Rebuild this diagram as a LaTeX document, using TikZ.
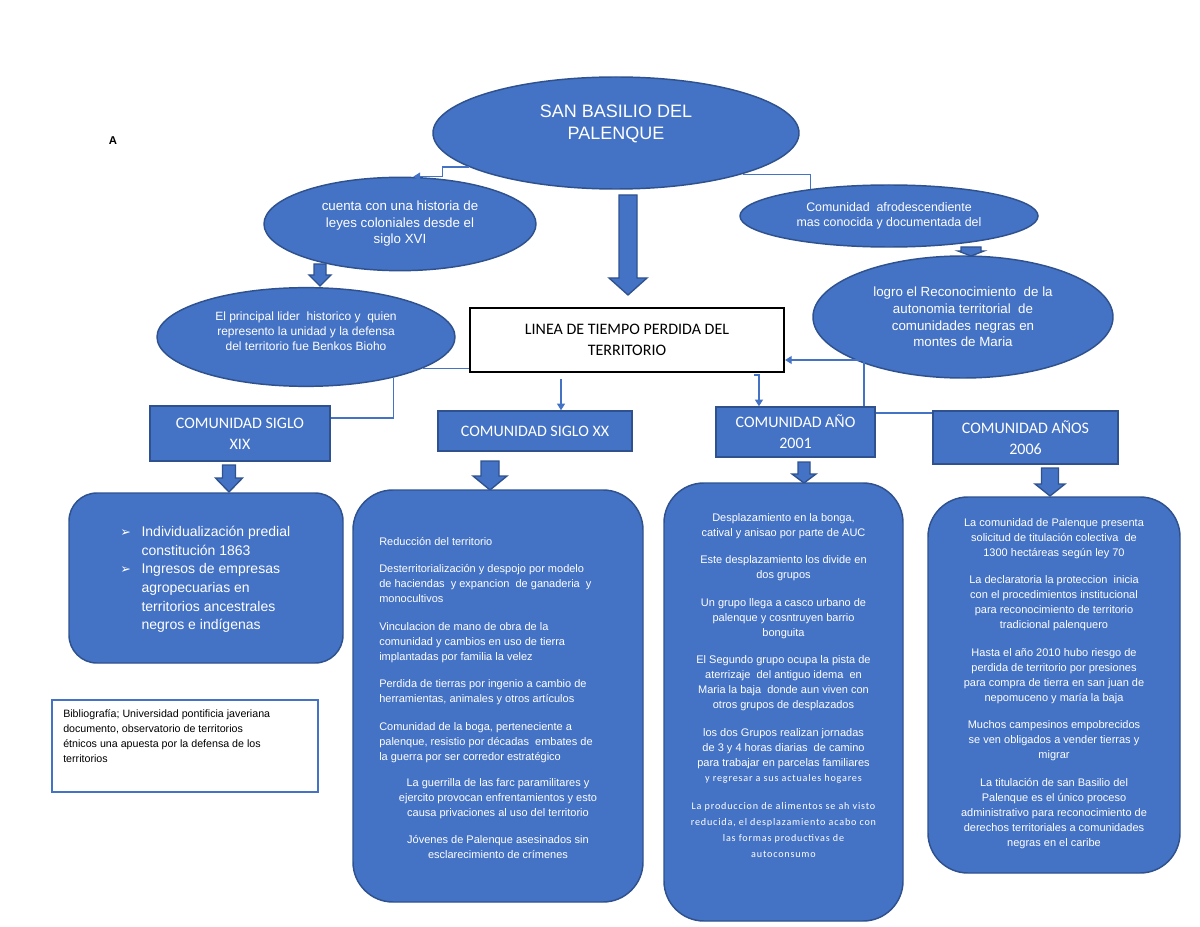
\documentclass[tikz,border=0pt]{standalone}
\usepackage{fontspec}
\setmainfont{Liberation Sans}
\newfontfamily\calfont{Carlito}
\newfontfamily\calwide{Carlito}[LetterSpace=8]
\newfontfamily\dingfont{DejaVu Sans}
\usetikzlibrary{shapes.geometric,arrows.meta}

\definecolor{officeblue}{HTML}{4472C4}
\definecolor{edgeblue}{HTML}{2F528F}

\newcommand{\smallcal}{\calwide\fontsize{7.6}{11.8}\selectfont}
\newcommand{\blockdown}[6]{%
  \filldraw[blockarrow] (#1-#5,#2) -- (#1+#5,#2) -- (#1+#5,#3) -- (#1+#6,#3)
    -- (#1,#4) -- (#1-#6,#3) -- (#1-#5,#3) -- cycle;}

\tikzset{
  bubble/.style={ellipse, fill=officeblue, draw=edgeblue, line width=1.1pt,
    inner sep=0pt, text=white, align=center},
  header/.style={rectangle, fill=officeblue, draw=edgeblue, line width=1.1pt,
    inner sep=0pt, text=white, align=center,
    font=\calfont\fontsize{12}{15.75}\selectfont},
  panel/.style={rectangle, rounded corners=30pt, fill=officeblue,
    draw=edgeblue, line width=1.1pt},
  paneltext/.style={inner sep=0pt, text=white,
    font=\fontsize{8.25}{11.25}\selectfont},
  link/.style={officeblue, line width=0.9pt},
  tip/.style={-{Triangle[length=5pt,width=6pt]}},
  blockarrow/.style={fill=officeblue, draw=edgeblue, line width=1pt},
}

\begin{document}
\begin{tikzpicture}[x=0.75pt, y=-0.75pt]
\path[use as bounding box, fill=white] (0,0) rectangle (1200,927);

\node[font=\bfseries\fontsize{8.5}{10}\selectfont] (mark-a) at (113,141) {A};

\node[bubble, minimum width=274.5pt, minimum height=84pt] (palenque) at (616,133) {};
\node[text=white, align=center, inner sep=0pt,
  font=\fontsize{13.5}{16.5}\selectfont] (palenque-t) at (616,124)
  {SAN BASILIO DEL\\PALENQUE};

\node[bubble, minimum width=204pt, minimum height=70pt,
  font=\fontsize{10}{12.4}\selectfont] (cuenta) at (400,224)
  {cuenta con una historia de\\leyes coloniales desde el\\siglo XVI};
\node[bubble, minimum width=223.5pt, minimum height=74pt,
  font=\fontsize{9}{11.25}\selectfont] (benkos) at (306,337)
  {El principal lider\ \ historico y\ \ quien\\represento la unidad y la defensa\\del territorio fue Benkos Bioho\\[-2.25pt]};
\node[bubble, minimum width=223.5pt, minimum height=46.5pt,
  font=\fontsize{9.3}{11.25}\selectfont] (afro) at (889,216)
  {Comunidad\ \ afrodescendiente\\mas conocida y documentada del};
\node[bubble, minimum width=225pt, minimum height=91.5pt,
  font=\fontsize{10}{12.5}\selectfont] (logro) at (963,317)
  {logro el Reconocimiento\ \ de la\\autonomia territorial\ \ de\\comunidades negras en\\montes de Maria};

\node[rectangle, draw=black, line width=1.6pt, fill=white, inner sep=0pt,
  minimum width=235.5pt, minimum height=48pt, align=center,
  font=\calfont\fontsize{12}{15.75}\selectfont] (title) at (627,340)
  {LINEA DE TIEMPO PERDIDA DEL\\TERRITORIO};

\node[header, minimum width=135pt, minimum height=41.25pt] (xix) at (240,433.5) {COMUNIDAD SIGLO\\XIX};
\node[header, minimum width=145.5pt, minimum height=30pt] (xx) at (535,431) {COMUNIDAD SIGLO XX};
\node[header, minimum width=119.25pt, minimum height=37.5pt] (y2001) at (795.5,432) {COMUNIDAD AÑO\\2001};
\node[header, minimum width=138.75pt, minimum height=39.75pt] (y2006) at (1025.5,437.5) {COMUNIDAD AÑOS\\2006};

\blockdown{628}{195}{278}{295}{9}{19}
\blockdown{320}{264}{275}{286}{6}{11}
\blockdown{971}{247}{251}{256}{10}{13}
\blockdown{229}{465}{478}{492}{6.5}{13.5}
\blockdown{490}{461}{476}{490}{9}{17}
\blockdown{804}{462}{474}{483}{6}{12}
\blockdown{1050}{468}{484}{496}{8.5}{15}

\draw[link, tip] (palenque.193) -- ++(-26,0) |- ([xshift=10pt]cuenta.north);
\draw[link] (palenque.-18) -| (afro.161);
\draw[link] (benkos.-15) -- (benkos.-15 -| title.west);
\draw[link] (benkos.-25.5) |- ([yshift=11.6pt]xix.east);
\draw[link, tip, shorten <=4.5pt] ([xshift=19.5pt]xx.north |- title.south) -- ([xshift=19.5pt]xx.north);
\draw[link, tip] ([xshift=-23.25pt, yshift=-1.5pt]title.south east) -| ([xshift=-27.4pt]y2001.north);
\draw[link, tip] ([xshift=51.4pt]y2001.north) |- ([yshift=-15pt]title.east);
\coordinate (k1) at ([yshift=14.25pt]y2001.east);
\draw[link] (k1) -- (k1 -| y2006.west);

\node[panel, rounded corners=21pt, minimum width=205.5pt, minimum height=127.5pt] (p19) at (206,578) {};
\node[panel, minimum width=217.5pt, minimum height=309pt] (p20) at (498,696) {};
\node[panel, minimum width=179.25pt, minimum height=328.5pt] (p01) at (783.5,702) {};
\node[panel, minimum width=189pt, minimum height=282pt] (p06) at (1054,685) {};

\node[paneltext, anchor=north west, font=\fontsize{10.5}{14}\selectfont] (p19-t) at (120,523) {%
  \begin{tabular}{@{}l@{\hspace{8pt}}l@{}}
  {\dingfont\fontsize{9.5}{14}\selectfont ➢} & Individualización predial\\
   & constitución 1863\\
  {\dingfont\fontsize{9.5}{14}\selectfont ➢} & Ingresos de empresas\\
   & agropecuarias en\\
   & territorios ancestrales\\
   & negros e indígenas
  \end{tabular}};

\node[paneltext, anchor=north west, align=left] (p20-a) at (379,537)
  {Reducción del territorio\\[9.4pt]
   Desterritorialización y despojo por modelo\\
   de haciendas\ \ y expancion\ \ de ganaderia\ \ y\\
   monocultivos\\[9.4pt]
   Vinculacion de mano de obra de la\\
   comunidad y cambios en uso de tierra\\
   implantadas por familia la velez\\[9.4pt]
   Perdida de tierras por ingenio a cambio de\\
   herramientas, animales y otros artículos\\[9.4pt]
   Comunidad de la boga, perteneciente a\\
   palenque, resistio por décadas\ \ embates de\\
   la guerra por ser corredor estratégico};
\node[paneltext, anchor=north, align=center] (p20-b) at (498,778)
  {La guerrilla de las farc paramilitares y\\
   ejercito provocan enfrentamientos y esto\\
   causa privaciones al uso del territorio\\[9.4pt]
   Jóvenes de Palenque asesinados sin\\
   esclarecimiento de crímenes};

\node[paneltext, anchor=north, align=center] (p01-t) at (783.5,513)
  {Desplazamiento en la bonga,\\
   catival y anisao por parte de AUC\\[9.4pt]
   Este desplazamiento los divide en\\
   dos grupos\\[9.4pt]
   Un grupo llega a casco urbano de\\
   palenque y cosntruyen barrio\\
   bonguita\\[9.4pt]
   El Segundo grupo ocupa la pista de\\
   aterrizaje\ \ del antiguo idema\ \ en\\
   Maria la baja\ \ donde aun viven con\\
   otros grupos de desplazados\\[9.4pt]
   los dos Grupos realizan jornadas\\
   de 3 y 4 horas diarias\ \ de camino\\
   para trabajar en parcelas familiares\\
   {\smallcal y regresar a sus actuales hogares}\\[10pt]
   {\smallcal La produccion de alimentos se ah visto}\\[0.6pt]
   {\smallcal reducida, el desplazamiento acabo con}\\[0.6pt]
   {\smallcal las formas productivas de}\\[0.6pt]
   {\smallcal autoconsumo}};

\node[paneltext, anchor=north, align=center] (p06-t) at (1054,518)
  {La comunidad de Palenque presenta\\
   solicitud de titulación colectiva\ \ de\\
   1300 hectáreas según ley 70\\[9.4pt]
   La declaratoria la proteccion\ \ inicia\\
   con el procedimientos institucional\\
   para reconocimiento de territorio\\
   tradicional palenquero\\[9.4pt]
   Hasta el año 2010 hubo riesgo de\\
   perdida de territorio por presiones\\
   para compra de tierra en san juan de\\
   nepomuceno y maría la baja\\[9.4pt]
   Muchos campesinos empobrecidos\\
   se ven obligados a vender tierras y\\
   migrar\\[9.4pt]
   La titulación de san Basilio del\\
   Palenque es el único proceso\\
   administrativo para reconocimiento de\\
   derechos territoriales a comunidades\\
   negras en el caribe};

\node[rectangle, draw=officeblue, line width=1.1pt, fill=white,
  minimum width=199.5pt, minimum height=69pt] (biblio) at (185,746) {};
\node[anchor=north west, align=left, inner sep=0pt,
  font=\fontsize{8}{11.25}\selectfont] (biblio-t) at (63,709)
  {Bibliografía; Universidad pontificia javeriana\\
   documento, observatorio de territorios\\
   étnicos una apuesta por la defensa de los\\
   territorios};
\end{tikzpicture}
\end{document}
